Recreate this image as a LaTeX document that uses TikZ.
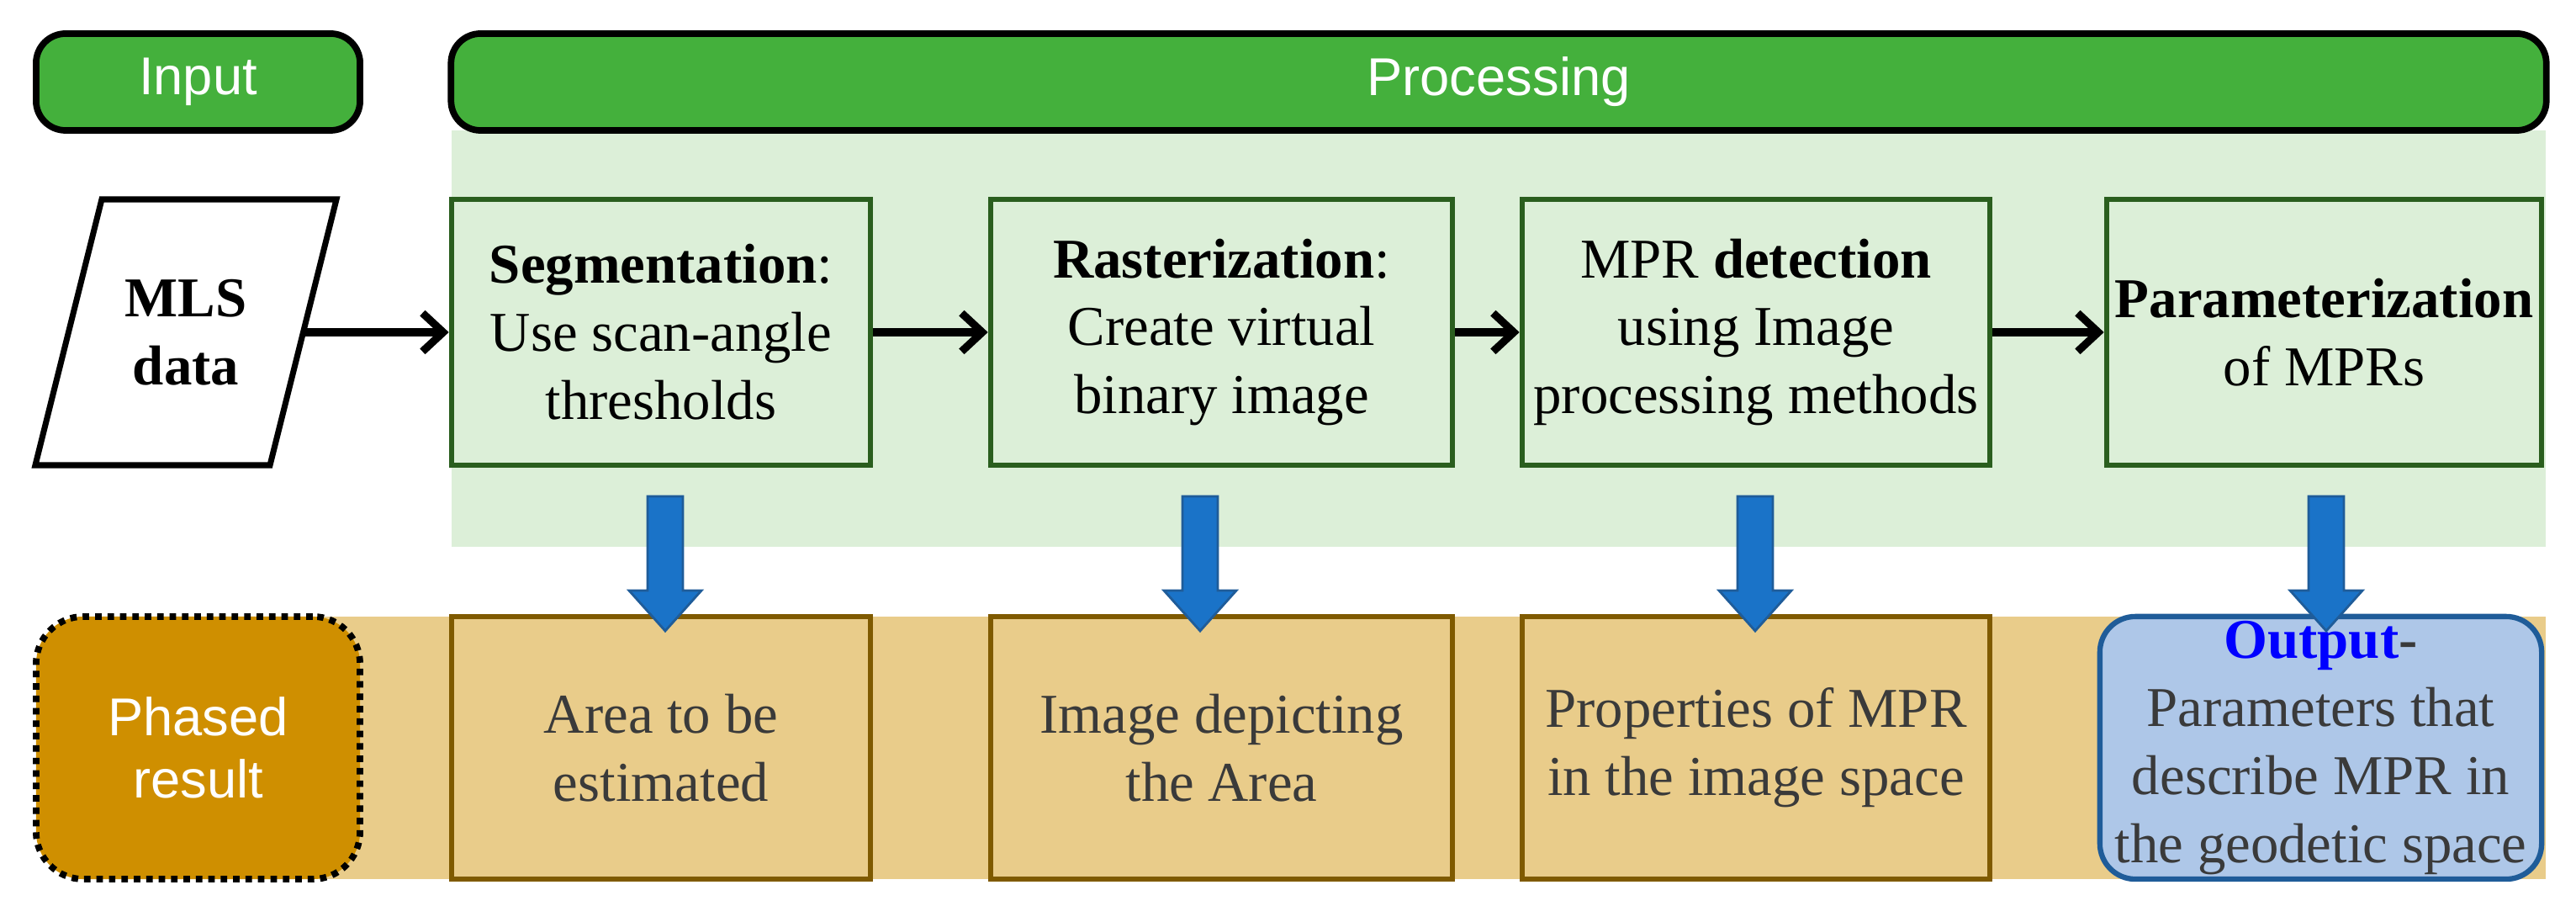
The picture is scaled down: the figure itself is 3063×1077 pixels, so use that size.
\documentclass[tikz,border=0pt]{standalone}
\usepackage{fontspec}
\setmainfont{Liberation Serif}
\newfontfamily\hsans{Liberation Sans}
\usetikzlibrary{shapes.geometric,calc,arrows.meta}
\definecolor{hdr}{HTML}{44B03C}
\definecolor{bgg}{HTML}{DCEFD8}
\definecolor{gbd}{HTML}{2A5E1E}
\definecolor{tanc}{HTML}{E9CC8A}
\definecolor{tbd}{HTML}{7F5A00}
\definecolor{ph}{HTML}{CF8F00}
\definecolor{blu}{HTML}{1A73C8}
\definecolor{bbd}{HTML}{1F5C99}
\definecolor{obl}{HTML}{AEC7E8}
\definecolor{txt}{HTML}{3A3A3A}
\begin{document}
\begin{tikzpicture}[x=0.01cm,y=-0.01cm,
  hdrbox/.style={draw=black,line width=2.2pt,fill=hdr,rounded corners=10pt,text=white,font=\hsans\fontsize{18}{21}\selectfont,inner sep=0pt},
  stepbox/.style={draw=gbd,line width=1.8pt,fill=bgg,align=center,font=\fontsize{19}{23}\selectfont,inner sep=0pt,minimum height=3.16cm},
  resbox/.style={draw=tbd,line width=1.8pt,fill=tanc,align=center,text=txt,font=\fontsize{19}{23}\selectfont,inner sep=0pt,minimum height=3.12cm},
  flow/.style={line width=2.6pt,-{Straight Barb[length=7pt,width=13pt,line width=2.6pt]}},
  down/.style={fill=blu,draw=bbd,line width=0.8pt}]
\useasboundingbox (0,0) rectangle (3063,1077);
% backgrounds
\fill[bgg] (537,155) rectangle (3027,650);
\fill[tanc] (220,733) rectangle (3027,1045);
% headers
\node[hdrbox,minimum width=3.85cm,minimum height=1.15cm] (in) at (235.5,97.5) {Input};
\node[hdrbox,minimum width=24.9cm,minimum height=1.15cm] (pr) at (1782,97.5) {Processing};
% input parallelogram
\coordinate (p1) at (121,237); \coordinate (p2) at (400,237);
\coordinate (p3) at (321,553); \coordinate (p4) at (42,553);
\draw[line width=2pt,fill=white] (p1)--(p2)--(p3)--(p4)--cycle;
\node[font=\bfseries\fontsize{19}{23}\selectfont,align=center] (mls) at (221,395) {MLS\\data};
\coordinate (mlsr) at (360.5,395);
% top steps
\node[stepbox,minimum width=4.98cm] (s1) at (786,395) {\textbf{Segmentation}:\\Use scan-angle\\thresholds};
\node[stepbox,minimum width=5.49cm] (s2) at (1452.5,395) {\textbf{Rasterization}:\\Create virtual\\binary image};
\node[stepbox,minimum width=5.56cm] (s3) at (2088,395) {MPR \textbf{detection}\\using Image\\processing methods};
\node[stepbox,minimum width=5.17cm] (s4) at (2763.5,395) {\textbf{Parameterization}\\of MPRs};
\draw[flow] (mlsr) -- (s1.west);
\draw[flow] (s1) -- (s2);
\draw[flow] (s2) -- (s3);
\draw[flow] (s3) -- (s4);
% bottom
\node[draw=black,line width=2.2pt,dotted,fill=ph,rounded corners=16pt,minimum width=3.85cm,minimum height=3.12cm,inner sep=0pt,text=white,font=\hsans\fontsize{18}{21}\selectfont,align=center] (ph) at (235.5,889) {Phased\\result};
\node[resbox,minimum width=4.98cm] (b1) at (786,889) {Area to be\\estimated};
\node[resbox,minimum width=5.49cm] (b2) at (1452.5,889) {Image depicting\\the Area};
\node[resbox,minimum width=5.56cm] (b3) at (2088,889) {Properties of MPR\\in the image space};
\node[resbox,draw=bbd,fill=obl,rounded corners=12pt,minimum width=5.25cm] (b4) at (2759.5,889) {\textcolor{blue}{\textbf{Output}}\textbf{-}\\Parameters that\\describe MPR in\\the geodetic space};
% blue down arrows
\foreach \cx in {791,1427,2087,2766}{
  \draw[down] (\cx-21,590) -- (\cx+21,590) -- (\cx+21,702) -- (\cx+43,702) -- (\cx,750) -- (\cx-43,702) -- (\cx-21,702) -- cycle;
}
\end{tikzpicture}
\end{document}
